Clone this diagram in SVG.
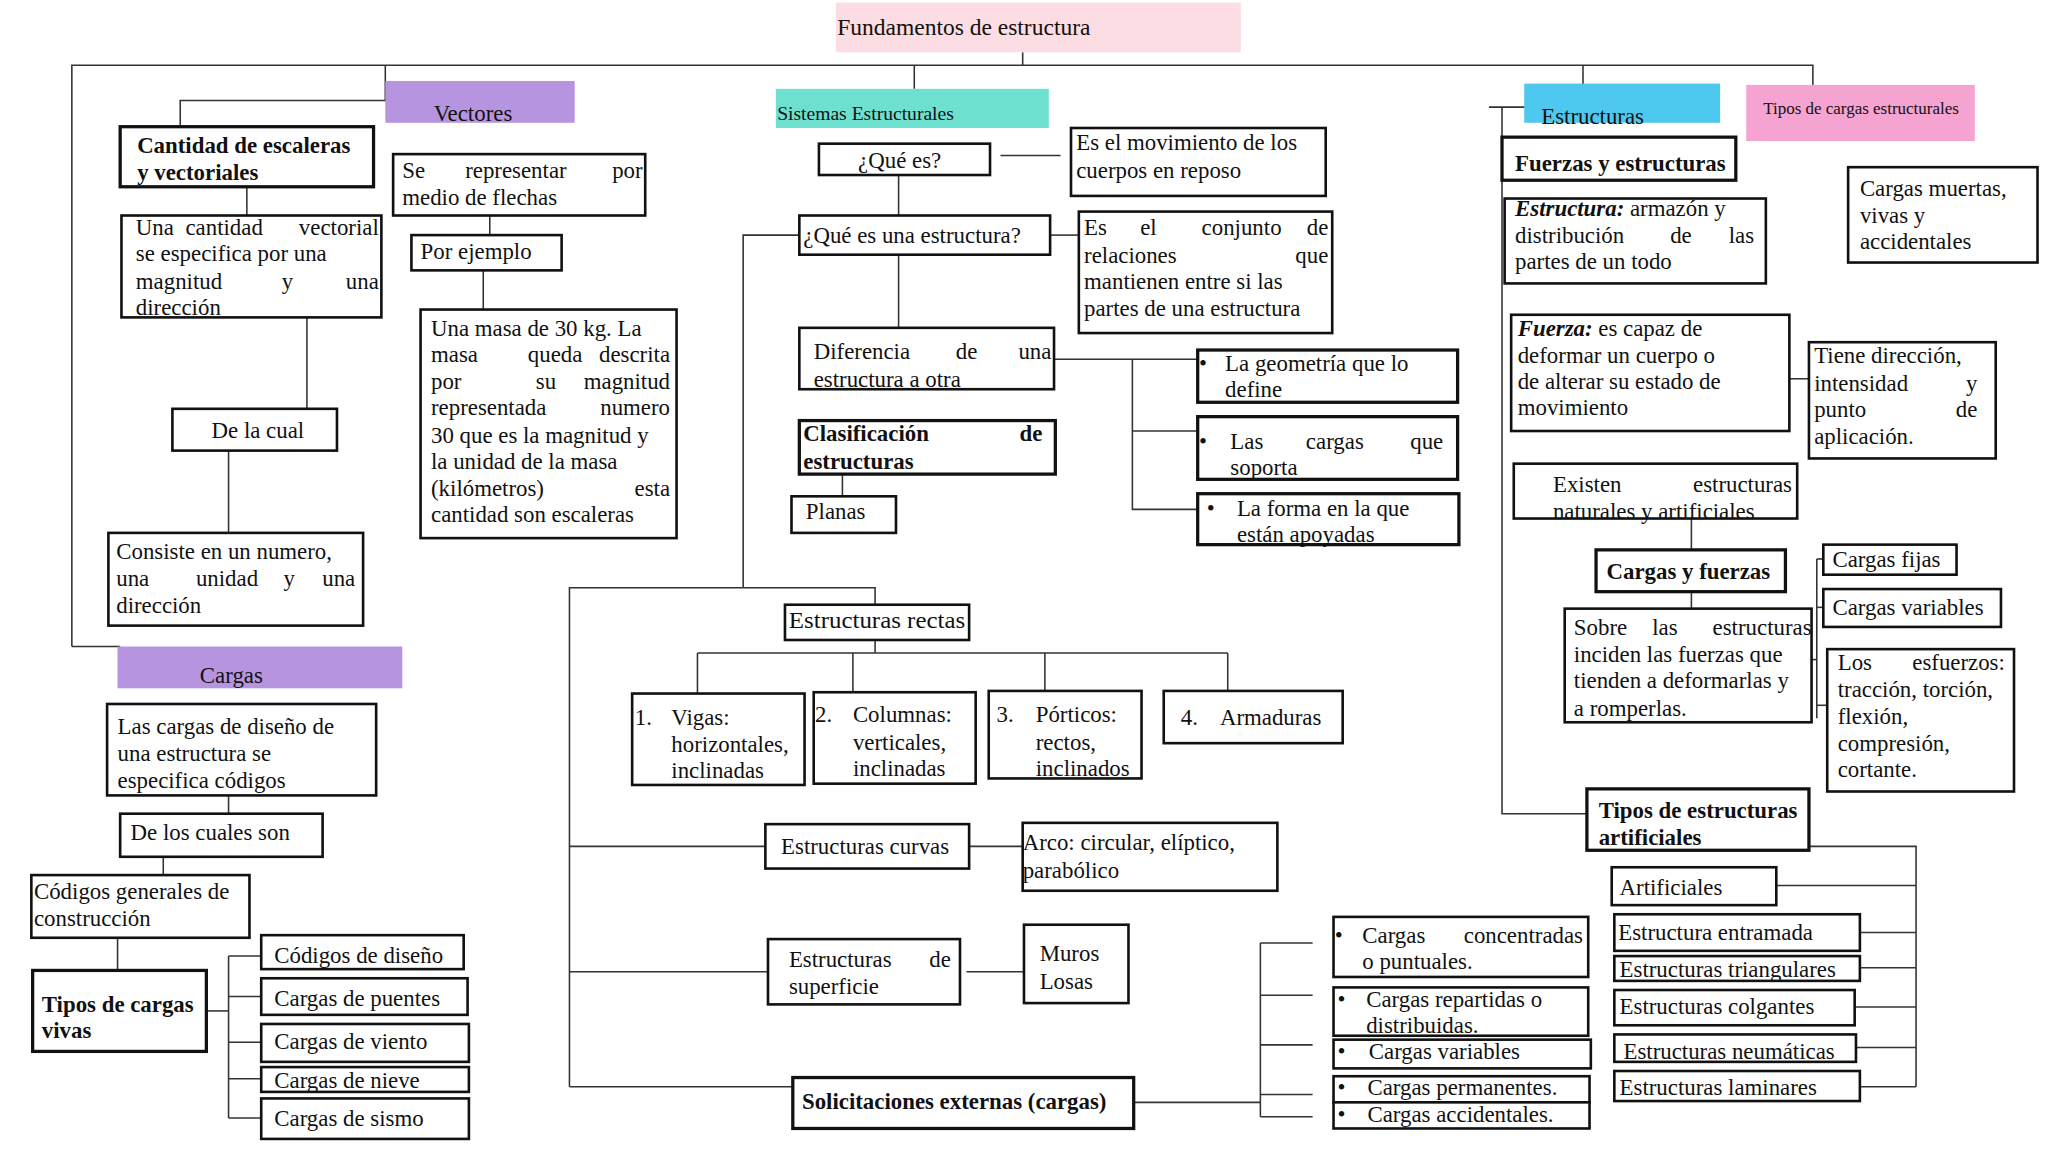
<svg xmlns="http://www.w3.org/2000/svg" width="2048" height="1152" viewBox="0 0 2048 1152">
<style>
rect.b{fill:#fff;stroke:#111;stroke-width:2}
rect.t{fill:#fff;stroke:#111;stroke-width:2.5}
text{font-family:"Liberation Serif","DejaVu Serif",serif;font-size:17.5px;fill:#111}
.bd{font-weight:bold}
.m{text-anchor:middle}
.e{text-anchor:end}
#conn line,#conn polyline{stroke:#333;stroke-width:1.2;fill:none}
</style>
<rect width="2048" height="1152" fill="#fff"/>
<g transform="scale(1.3061)">
<g id="conn">
<polyline points="55,495 55,50 1388,50 1388,65"/>
<line x1="783" y1="40" x2="783" y2="50"/>
<polyline points="295,50 295,77 138,77 138,97"/>
<line x1="700" y1="50" x2="700" y2="68"/>
<line x1="1212" y1="50" x2="1212" y2="65"/>
<line x1="55" y1="495" x2="92" y2="495"/>
<line x1="189" y1="143" x2="189" y2="165"/>
<line x1="235" y1="243" x2="235" y2="313"/>
<line x1="175" y1="345" x2="175" y2="408"/>
<line x1="375" y1="165" x2="375" y2="180"/>
<line x1="370" y1="207" x2="370" y2="237"/>
<line x1="175" y1="609" x2="175" y2="623"/>
<line x1="125" y1="656" x2="125" y2="670"/>
<line x1="90" y1="718" x2="90" y2="743"/>
<polyline points="158,774 175,774"/>
<line x1="175" y1="732" x2="175" y2="856"/>
<line x1="175" y1="732" x2="200" y2="732"/>
<line x1="175" y1="763" x2="200" y2="763"/>
<line x1="175" y1="798" x2="200" y2="798"/>
<line x1="175" y1="826" x2="200" y2="826"/>
<line x1="175" y1="856" x2="200" y2="856"/>
<line x1="688" y1="134" x2="688" y2="165"/>
<line x1="766" y1="119" x2="812" y2="119"/>
<line x1="804" y1="180" x2="826" y2="180"/>
<line x1="688" y1="195" x2="688" y2="251"/>
<polyline points="807,275 917,275"/>
<polyline points="867,275 867,390 917,390"/>
<line x1="867" y1="330" x2="917" y2="330"/>
<line x1="645" y1="363" x2="645" y2="380"/>
<polyline points="612,180 569,180 569,450"/>
<polyline points="436,832 436,450 670,450 670,463"/>
<polyline points="670,490 670,500"/>
<line x1="534" y1="500" x2="940" y2="500"/>
<line x1="534" y1="500" x2="534" y2="531"/>
<line x1="653" y1="500" x2="653" y2="530"/>
<line x1="800" y1="500" x2="800" y2="529"/>
<line x1="940" y1="500" x2="940" y2="529"/>
<line x1="436" y1="648" x2="586" y2="648"/>
<line x1="742" y1="648" x2="783" y2="648"/>
<line x1="436" y1="744" x2="588" y2="744"/>
<line x1="740" y1="744" x2="784" y2="744"/>
<line x1="436" y1="832" x2="607" y2="832"/>
<line x1="868" y1="844" x2="965" y2="844"/>
<line x1="965" y1="722" x2="965" y2="855"/>
<line x1="965" y1="722" x2="1005" y2="722"/>
<line x1="965" y1="762" x2="1005" y2="762"/>
<line x1="965" y1="800" x2="1005" y2="800"/>
<line x1="965" y1="838" x2="1005" y2="838"/>
<line x1="965" y1="855" x2="1005" y2="855"/>
<polyline points="1170,82 1140,82 1150,82 1150,623 1215,623"/>
<line x1="1370" y1="290" x2="1385" y2="290"/>
<line x1="1295" y1="397" x2="1295" y2="421"/>
<line x1="1295" y1="453" x2="1295" y2="466"/>
<line x1="1387" y1="505" x2="1391" y2="505"/>
<line x1="1391" y1="428" x2="1391" y2="550"/>
<line x1="1391" y1="428" x2="1396" y2="428"/>
<line x1="1391" y1="465" x2="1396" y2="465"/>
<line x1="1391" y1="540" x2="1399" y2="540"/>
<polyline points="1385,648 1467,648 1467,832"/>
<line x1="1360" y1="678" x2="1467" y2="678"/>
<line x1="1424" y1="714" x2="1467" y2="714"/>
<line x1="1424" y1="741" x2="1467" y2="741"/>
<line x1="1420" y1="771" x2="1467" y2="771"/>
<line x1="1421" y1="802" x2="1467" y2="802"/>
<line x1="1424" y1="832" x2="1467" y2="832"/>
</g>
<g id="title"><rect x="640" y="2" width="310" height="38" fill="#fbdde3"/><text x="641" y="27" style="font-size:18px">Fundamentos de estructura</text></g>
<g id="h-vectores"><rect x="295" y="62" width="145" height="32" fill="#b794e0"/><text x="332" y="93">Vectores</text></g>
<g id="h-sistemas"><rect x="594" y="68" width="209" height="30" fill="#6ee0d0"/><text x="595" y="92" style="font-size:15px">Sistemas Estructurales</text></g>
<g id="h-estructuras"><rect x="1167" y="64" width="150" height="30" fill="#4fc8ef"/><text x="1180" y="95">Estructuras</text></g>
<g id="h-tipos"><rect x="1337" y="65" width="175" height="43" fill="#f5a3d0"/><text x="1350" y="87" style="font-size:13px">Tipos de cargas estructurales</text></g>
<g id="h-cargas"><rect x="90" y="495" width="218" height="32" fill="#b794e0"/><text x="153" y="523">Cargas</text></g>

<g id="n1"><rect class="t" x="92" y="97" width="194" height="46"/><text class="bd" x="105" y="117">Cantidad de escaleras</text><text class="bd" x="105" y="138">y vectoriales</text></g>
<g id="n2"><rect class="b" x="93" y="165" width="199" height="78"/><text x="104" y="180">Una</text><text x="142" y="180">cantidad</text><text class="e" x="290" y="180">vectorial</text><text x="104" y="200">se especifica por una</text><text x="104" y="221">magnitud</text><text class="m" x="220" y="221">y</text><text class="e" x="290" y="221">una</text><text x="104" y="241">dirección</text></g>
<g id="n3"><rect class="b" x="132" y="313" width="126" height="32"/><text x="162" y="335">De la cual</text></g>
<g id="n4"><rect class="b" x="83" y="408" width="195" height="71"/><text x="89" y="428">Consiste en un numero,</text><text x="89" y="449">una</text><text x="150" y="449">unidad</text><text x="217" y="449">y</text><text class="e" x="272" y="449">una</text><text x="89" y="469">dirección</text></g>
<g id="n5"><rect class="b" x="301" y="118" width="193" height="47"/><text x="308" y="136">Se</text><text class="m" x="395" y="136">representar</text><text class="e" x="492" y="136">por</text><text x="308" y="157">medio de flechas</text></g>
<g id="n6"><rect class="b" x="315" y="180" width="115" height="27"/><text x="322" y="198">Por ejemplo</text></g>
<g id="n7"><rect class="b" x="322" y="237" width="196" height="175"/><text x="330" y="257">Una masa de 30 kg. La</text><text x="330" y="277">masa</text><text class="m" x="425" y="277">queda</text><text class="e" x="513" y="277">descrita</text><text x="330" y="298">por</text><text class="m" x="418" y="298">su</text><text class="e" x="513" y="298">magnitud</text><text x="330" y="318">representada</text><text class="e" x="513" y="318">numero</text><text x="330" y="339">30 que es la magnitud y</text><text x="330" y="359">la unidad de la masa</text><text x="330" y="380">(kilómetros)</text><text class="e" x="513" y="380">esta</text><text x="330" y="400">cantidad son escaleras</text></g>
<g id="n8"><rect class="b" x="82" y="539" width="206" height="70"/><text x="90" y="562">Las cargas de diseño de</text><text x="90" y="583">una estructura se</text><text x="90" y="603">especifica códigos</text></g>
<g id="n9"><rect class="b" x="92" y="623" width="155" height="33"/><text x="100" y="643">De los cuales son</text></g>
<g id="n10"><rect class="b" x="24" y="670" width="167" height="48"/><text x="26" y="688">Códigos generales de</text><text x="26" y="709">construcción</text></g>
<g id="n11"><rect class="t" x="25" y="743" width="133" height="62"/><text class="bd" x="32" y="775">Tipos de cargas</text><text class="bd" x="32" y="795">vivas</text></g>
<g id="n12"><rect class="b" x="200" y="716" width="155" height="26"/><text x="210" y="737">Códigos de diseño</text></g>
<g id="n13"><rect class="b" x="200" y="749" width="158" height="28"/><text x="210" y="770">Cargas de puentes</text></g>
<g id="n14"><rect class="b" x="200" y="784" width="159" height="29"/><text x="210" y="803">Cargas de viento</text></g>
<g id="n15"><rect class="b" x="200" y="817" width="159" height="19"/><text x="210" y="833">Cargas de nieve</text></g>
<g id="n16"><rect class="b" x="200" y="841" width="159" height="31"/><text x="210" y="862">Cargas de sismo</text></g>

<g id="n17"><rect class="b" x="627" y="110" width="131" height="24"/><text x="657" y="129">¿Qué es?</text></g>
<g id="n18"><rect class="b" x="820" y="98" width="195" height="52"/><text x="824" y="115">Es el movimiento de los</text><text x="824" y="136">cuerpos en reposo</text></g>
<g id="n19"><rect class="b" x="612" y="165" width="192" height="30"/><text x="615" y="186">¿Qué es una estructura?</text></g>
<g id="n20"><rect class="b" x="826" y="162" width="194" height="93"/><text x="830" y="180">Es</text><text x="873" y="180">el</text><text x="920" y="180">conjunto</text><text class="e" x="1017" y="180">de</text><text x="830" y="201">relaciones</text><text class="e" x="1017" y="201">que</text><text x="830" y="221">mantienen entre si las</text><text x="830" y="242">partes de una estructura</text></g>
<g id="n21"><rect class="b" x="612" y="251" width="195" height="47"/><text x="623" y="275">Diferencia</text><text class="m" x="740" y="275">de</text><text class="e" x="805" y="275">una</text><text x="623" y="296">estructura a otra</text></g>
<g id="n22"><rect class="t" x="612" y="322" width="196" height="41"/><text class="bd" x="615" y="338">Clasificación</text><text class="bd e" x="798" y="338">de</text><text class="bd" x="615" y="359">estructuras</text></g>
<g id="n23"><rect class="b" x="606" y="380" width="80" height="28"/><text x="617" y="397">Planas</text></g>
<g id="n24"><rect class="t" x="917" y="268" width="199" height="40"/><text x="918" y="284">•</text><text x="938" y="284">La geometría que lo</text><text x="938" y="304">define</text></g>
<g id="n25"><rect class="t" x="917" y="319" width="199" height="48"/><text x="918" y="344">•</text><text x="942" y="344">Las</text><text class="m" x="1022" y="344">cargas</text><text class="e" x="1105" y="344">que</text><text x="942" y="364">soporta</text></g>
<g id="n26"><rect class="t" x="917" y="378" width="200" height="39"/><text x="924" y="395">•</text><text x="947" y="395">La forma en la que</text><text x="947" y="415">están apoyadas</text></g>
<g id="n27"><rect class="b" x="601" y="463" width="141" height="27"/><text x="604" y="481" textLength="135" lengthAdjust="spacingAndGlyphs">Estructuras rectas</text></g>
<g id="n28"><rect class="b" x="484" y="531" width="132" height="70"/><text x="486" y="555">1.</text><text x="514" y="555">Vigas:</text><text x="514" y="576">horizontales,</text><text x="514" y="596">inclinadas</text></g>
<g id="n29"><rect class="b" x="623" y="530" width="124" height="70"/><text x="624" y="553">2.</text><text x="653" y="553">Columnas:</text><text x="653" y="574">verticales,</text><text x="653" y="594">inclinadas</text></g>
<g id="n30"><rect class="b" x="757" y="529" width="117" height="67"/><text x="763" y="553">3.</text><text x="793" y="553">Pórticos:</text><text x="793" y="574">rectos,</text><text x="793" y="594">inclinados</text></g>
<g id="n31"><rect class="b" x="891" y="529" width="137" height="40"/><text x="904" y="555">4.</text><text x="934" y="555">Armaduras</text></g>
<g id="n32"><rect class="b" x="586" y="631" width="156" height="34"/><text x="598" y="654">Estructuras curvas</text></g>
<g id="n33"><rect class="b" x="783" y="630" width="195" height="52"/><text x="783" y="651">Arco: circular, elíptico,</text><text x="783" y="672">parabólico</text></g>
<g id="n34"><rect class="b" x="588" y="719" width="147" height="50"/><text x="604" y="740">Estructuras</text><text class="e" x="728" y="740">de</text><text x="604" y="761">superficie</text></g>
<g id="n35"><rect class="b" x="784" y="708" width="80" height="60"/><text x="796" y="736">Muros</text><text x="796" y="757">Losas</text></g>
<g id="n36"><rect class="t" x="607" y="825" width="261" height="39"/><text class="bd" x="614" y="849">Solicitaciones externas (cargas)</text></g>
<g id="n37"><rect class="b" x="1021" y="702" width="195" height="46"/><text x="1022" y="722">•</text><text x="1043" y="722">Cargas</text><text class="e" x="1212" y="722">concentradas</text><text x="1043" y="742">o puntuales.</text></g>
<g id="n38"><rect class="b" x="1021" y="756" width="195" height="37"/><text x="1024" y="771">•</text><text x="1046" y="771">Cargas repartidas o</text><text x="1046" y="791">distribuidas.</text></g>
<g id="n39"><rect class="b" x="1021" y="796" width="197" height="22"/><text x="1024" y="811">•</text><text x="1048" y="811">Cargas variables</text></g>
<g id="n40"><rect class="b" x="1021" y="824" width="196" height="20"/><text x="1024" y="838">•</text><text x="1047" y="838">Cargas permanentes.</text></g>
<g id="n41"><rect class="b" x="1021" y="844" width="196" height="20"/><text x="1024" y="859">•</text><text x="1047" y="859">Cargas accidentales.</text></g>

<g id="n42"><rect class="t" x="1150" y="105" width="179" height="33"/><text class="bd" x="1160" y="131">Fuerzas y estructuras</text></g>
<g id="n43"><rect class="b" x="1152" y="152" width="200" height="65"/><text x="1160" y="165"><tspan font-weight="bold" font-style="italic">Estructura:</tspan> armazón y</text><text x="1160" y="186">distribución</text><text class="m" x="1287" y="186">de</text><text class="e" x="1343" y="186">las</text><text x="1160" y="206">partes de un todo</text></g>
<g id="n44"><rect class="b" x="1157" y="241" width="213" height="89"/><text x="1162" y="257"><tspan font-weight="bold" font-style="italic">Fuerza:</tspan>  es capaz de</text><text x="1162" y="278">deformar un cuerpo o</text><text x="1162" y="298">de alterar su estado de</text><text x="1162" y="318">movimiento</text></g>
<g id="n45"><rect class="b" x="1385" y="262" width="143" height="89"/><text x="1389" y="278">Tiene dirección,</text><text x="1389" y="299">intensidad</text><text class="e" x="1514" y="299">y</text><text x="1389" y="319">punto</text><text class="e" x="1514" y="319">de</text><text x="1389" y="340">aplicación.</text></g>
<g id="n46"><rect class="b" x="1159" y="355" width="217" height="42"/><text x="1189" y="377">Existen</text><text class="e" x="1372" y="377">estructuras</text><text x="1189" y="397">naturales y artificiales</text></g>
<g id="n47"><rect class="t" x="1222" y="421" width="145" height="32"/><text class="bd" x="1230" y="443">Cargas y fuerzas</text></g>
<g id="n48"><rect class="b" x="1198" y="466" width="189" height="87"/><text x="1205" y="486">Sobre</text><text x="1265" y="486">las</text><text class="e" x="1387" y="486">estructuras</text><text x="1205" y="507">inciden las fuerzas que</text><text x="1205" y="527">tienden a deformarlas y</text><text x="1205" y="548">a romperlas.</text></g>
<g id="n49"><rect class="b" x="1396" y="417" width="102" height="23"/><text x="1403" y="434">Cargas fijas</text></g>
<g id="n50"><rect class="b" x="1396" y="451" width="136" height="29"/><text x="1403" y="471">Cargas variables</text></g>
<g id="n51"><rect class="b" x="1399" y="497" width="143" height="109"/><text x="1407" y="513">Los</text><text class="e" x="1535" y="513">esfuerzos:</text><text x="1407" y="534">tracción, torción,</text><text x="1407" y="554">flexión,</text><text x="1407" y="575">compresión,</text><text x="1407" y="595">cortante.</text></g>
<g id="n52"><rect class="t" x="1215" y="604" width="170" height="47"/><text class="bd" x="1224" y="626">Tipos de estructuras</text><text class="bd" x="1224" y="647">artificiales</text></g>
<g id="n53"><rect class="b" x="1234" y="664" width="126" height="29"/><text x="1240" y="685">Artificiales</text></g>
<g id="n54"><rect class="b" x="1236" y="700" width="188" height="28"/><text x="1239" y="720">Estructura entramada</text></g>
<g id="n55"><rect class="b" x="1236" y="732" width="188" height="19"/><text x="1240" y="748">Estructuras triangulares</text></g>
<g id="n56"><rect class="b" x="1236" y="758" width="184" height="27"/><text x="1240" y="776">Estructuras colgantes</text></g>
<g id="n57"><rect class="b" x="1236" y="792" width="185" height="21"/><text x="1243" y="811">Estructuras neumáticas</text></g>
<g id="n58"><rect class="b" x="1236" y="820" width="188" height="23"/><text x="1240" y="838">Estructuras laminares</text></g>
<g id="n59"><rect class="b" x="1415" y="128" width="145" height="73"/><text x="1424" y="150">Cargas muertas,</text><text x="1424" y="171">vivas y</text><text x="1424" y="191">accidentales</text></g>
</g>
</svg>
